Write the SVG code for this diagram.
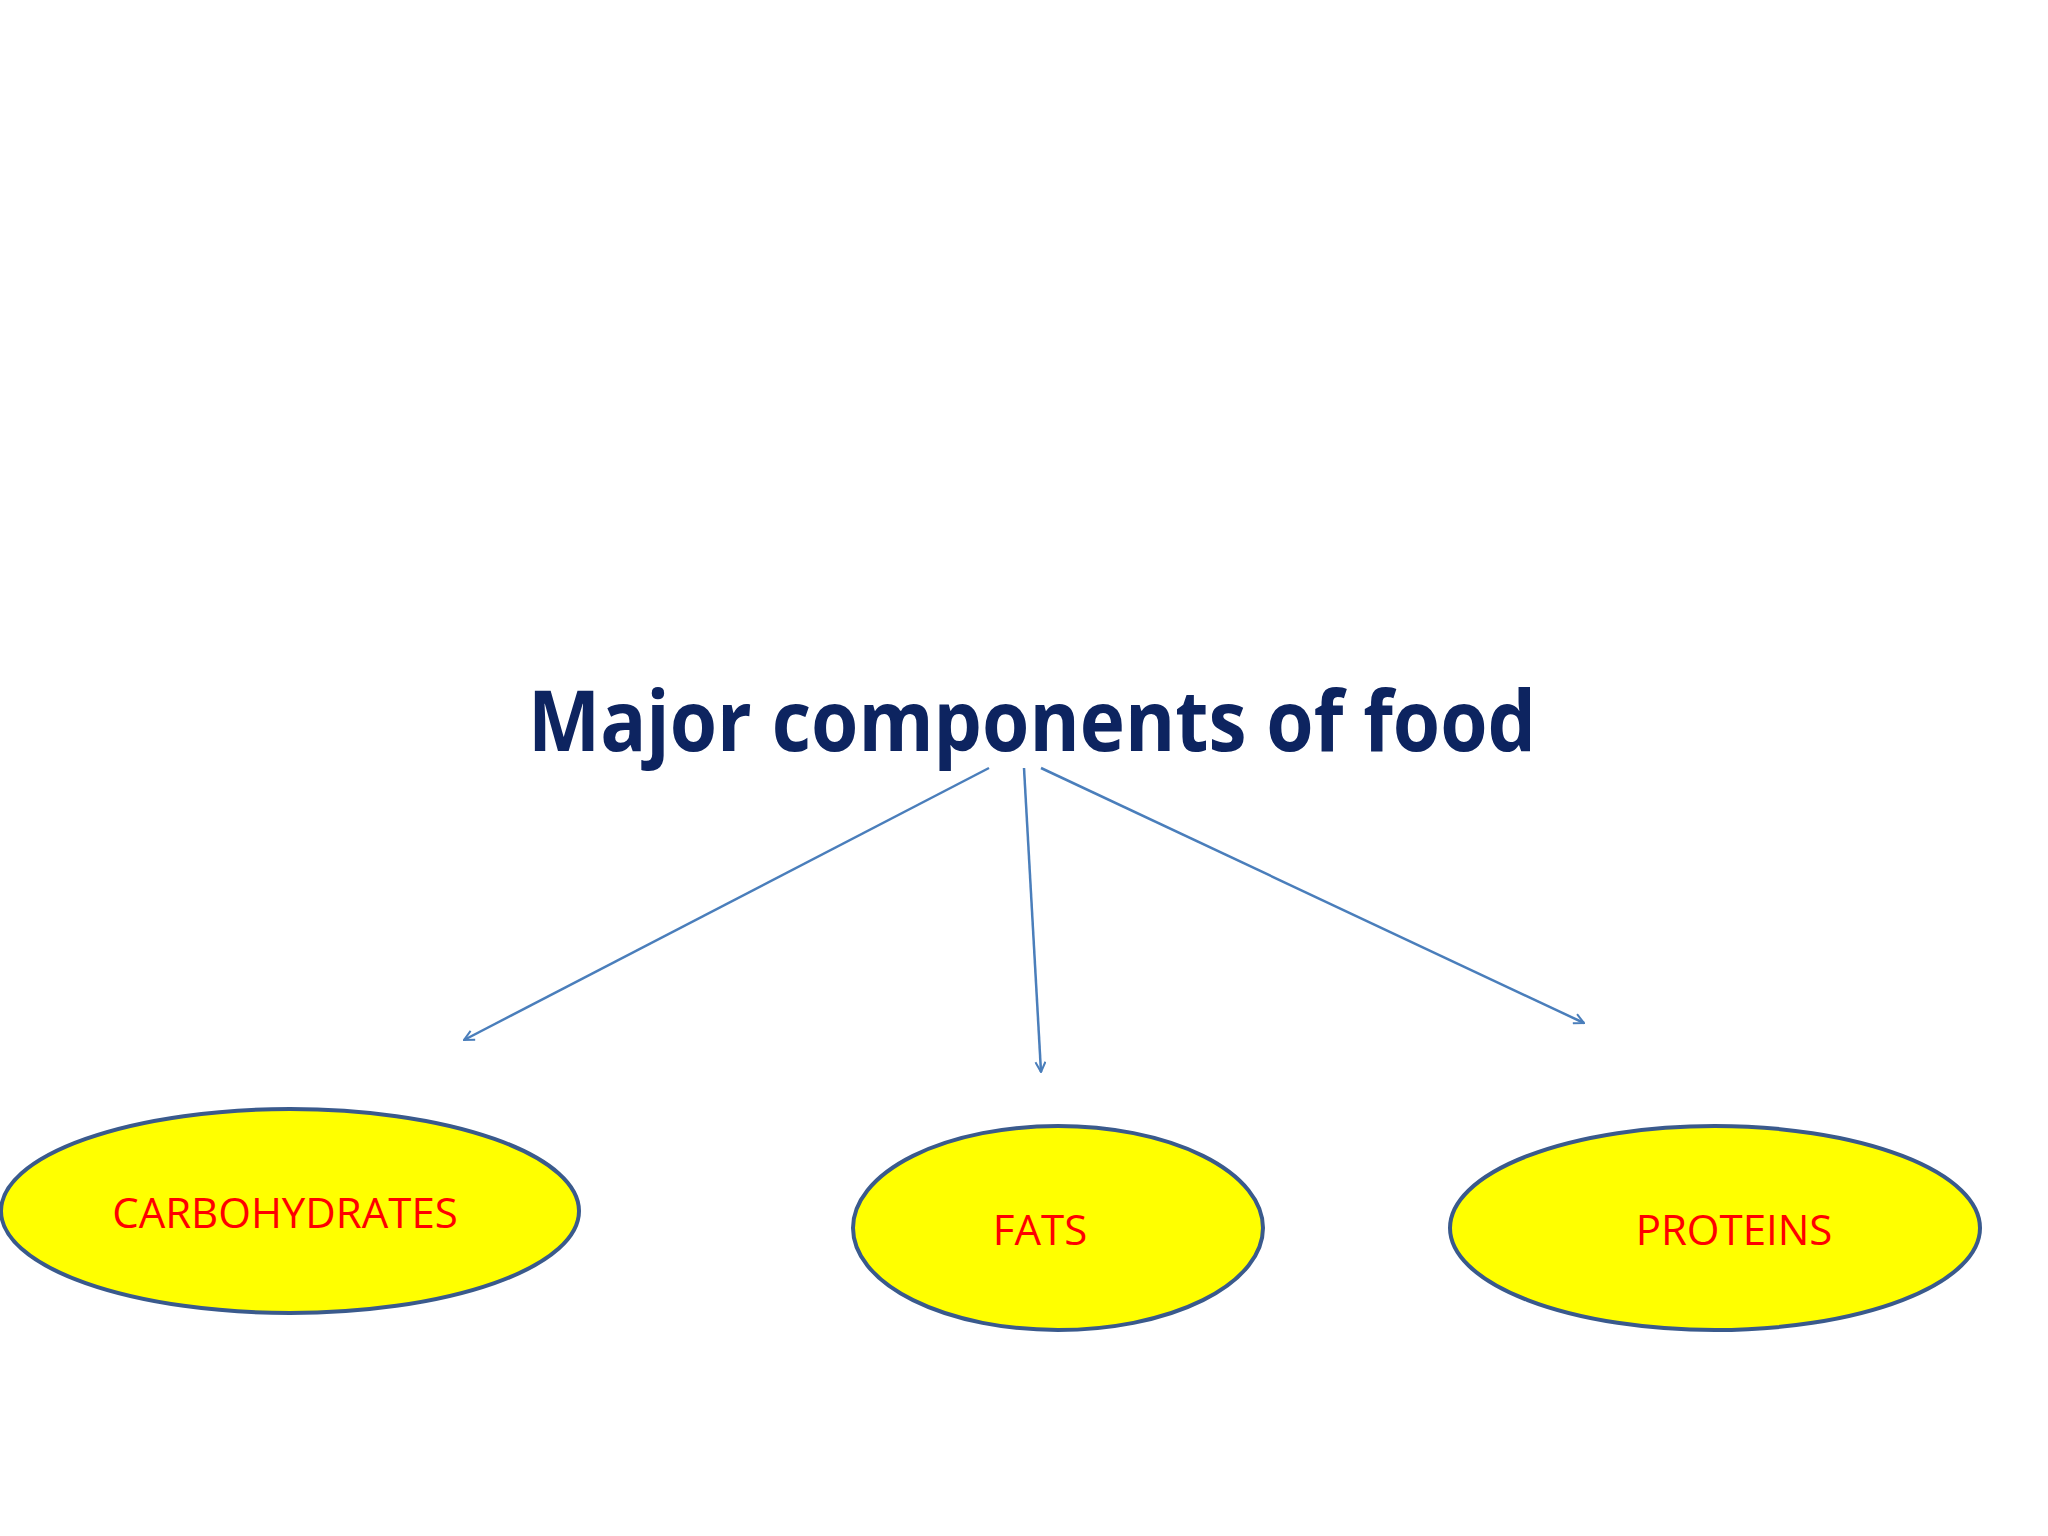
<svg xmlns="http://www.w3.org/2000/svg" width="2048" height="1536" viewBox="0 0 2048 1536">
<style>
.node ellipse{fill:#FFFF00;stroke:#3A5A8C;stroke-width:4}
.lbl{font-family:"Open Sans","Liberation Sans",sans-serif;font-size:42px;fill:#FF0000;text-anchor:middle}
.conn line{stroke:#4A7EBB;stroke-width:2.5;marker-end:url(#ah)}
</style>
<defs><marker id="ah" viewBox="0 0 12 12" refX="11" refY="6" markerWidth="12" markerHeight="12" markerUnits="userSpaceOnUse" orient="auto"><path d="M1,1 L11,6 L1,11" fill="none" stroke="#4A7EBB" stroke-width="2"/></marker></defs>
<rect width="2048" height="1536" fill="#fff"/>
<g id="title"><text x="1032" y="751" font-family="Open Sans,Liberation Sans,sans-serif" font-weight="bold" font-size="84" fill="#0D2460" text-anchor="middle" textLength="1008" lengthAdjust="spacingAndGlyphs">Major components of food</text></g>
<g class="conn" id="connectors">
<line x1="989" y1="768" x2="464" y2="1040"/>
<line x1="1024" y1="768" x2="1041" y2="1072"/>
<line x1="1041" y1="768" x2="1584" y2="1023"/>
</g>
<g class="node" id="carbohydrates"><ellipse cx="290" cy="1211" rx="289" ry="102"/><text class="lbl" x="285" y="1228">CARBOHYDRATES</text></g>
<g class="node" id="fats"><ellipse cx="1058" cy="1228" rx="205" ry="102"/><text class="lbl" x="1040" y="1245">FATS</text></g>
<g class="node" id="proteins"><ellipse cx="1715" cy="1228" rx="265" ry="102"/><text class="lbl" x="1734" y="1245">PROTEINS</text></g>
</svg>
